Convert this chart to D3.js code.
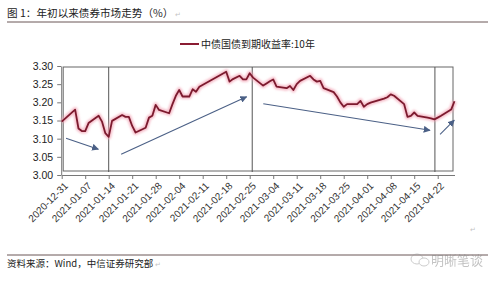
<!DOCTYPE html>
<html><head><meta charset="utf-8">
<script src="https://cdn.jsdelivr.net/npm/d3@7/dist/d3.min.js"></script>
<style>body{margin:0;background:#fff}svg{display:block}</style>
</head><body>
<svg id="c" width="500" height="282"></svg>
<script>
const titleText = "图 1：年初以来债券市场走势（%）";
const seriesName = "中债国债到期收益率:10年";
const sourceText = "资料来源：Wind，中信证券研究部";
const watermark = "明晰笔谈";

const dates = ["2020-12-31","2021-01-04","2021-01-05","2021-01-06","2021-01-07","2021-01-08","2021-01-11","2021-01-12","2021-01-13","2021-01-14","2021-01-15","2021-01-18","2021-01-19","2021-01-20","2021-01-21","2021-01-22","2021-01-25","2021-01-26","2021-01-27","2021-01-28","2021-01-29","2021-02-01","2021-02-02","2021-02-03","2021-02-04","2021-02-05","2021-02-07","2021-02-08","2021-02-09","2021-02-10","2021-02-18","2021-02-19","2021-02-20","2021-02-22","2021-02-23","2021-02-24","2021-02-25","2021-02-26","2021-03-01","2021-03-02","2021-03-03","2021-03-04","2021-03-05","2021-03-08","2021-03-09","2021-03-10","2021-03-11","2021-03-12","2021-03-15","2021-03-16","2021-03-17","2021-03-18","2021-03-19","2021-03-22","2021-03-23","2021-03-24","2021-03-25","2021-03-26","2021-03-29","2021-03-30","2021-03-31","2021-04-01","2021-04-02","2021-04-06","2021-04-07","2021-04-08","2021-04-09","2021-04-12","2021-04-13","2021-04-14","2021-04-15","2021-04-16","2021-04-19","2021-04-20","2021-04-21","2021-04-22","2021-04-23","2021-04-26","2021-04-27"];
const yields = [3.147,3.180,3.128,3.121,3.121,3.143,3.163,3.147,3.115,3.105,3.149,3.165,3.160,3.160,3.135,3.117,3.130,3.158,3.163,3.193,3.179,3.170,3.195,3.218,3.234,3.216,3.216,3.236,3.229,3.243,3.284,3.257,3.264,3.273,3.263,3.263,3.280,3.268,3.246,3.252,3.258,3.263,3.243,3.239,3.245,3.234,3.250,3.259,3.273,3.263,3.257,3.259,3.239,3.228,3.216,3.200,3.188,3.195,3.195,3.204,3.188,3.195,3.199,3.210,3.214,3.222,3.218,3.195,3.160,3.163,3.172,3.163,3.158,3.156,3.153,3.158,3.163,3.180,3.203];

const xTickLabels = ["2020-12-31","2021-01-07","2021-01-14","2021-01-21","2021-01-28","2021-02-04","2021-02-11","2021-02-18","2021-02-25","2021-03-04","2021-03-11","2021-03-18","2021-03-25","2021-04-01","2021-04-08","2021-04-15","2021-04-22"];
const yTicks = [3.00,3.05,3.10,3.15,3.20,3.25,3.30];
const xDomain = ["2020-12-31","2021-04-27"];

// phase dividers and trend arrows (annotations, in data space)
const dividerDates = ["2021-01-14T00:00","2021-02-25T18:00","2021-04-21T04:00"];
const arrowStartDates = ["2021-01-01T07:00","2021-01-17T17:00","2021-03-01T01:00","2021-04-22T17:00"];
const arrowStartValues = [3.101,3.057,3.196,3.112];
const arrowEndDates = ["2021-01-10T22:00","2021-02-24T02:00","2021-04-19T17:00","2021-04-26T22:00"];
const arrowEndValues = [3.071,3.2155,3.123,3.151];

const pDay = d3.timeParse("%Y-%m-%d");
const pTime = d3.timeParse("%Y-%m-%dT%H:%M");
const data = dates.map((d,i)=>({date:pDay(d), v:yields[i]}));

const svg = d3.select("#c");
const x = d3.scaleTime().domain(xDomain.map(pDay)).range([61.7,454.5]);
const y = d3.scaleLinear().domain([3.00,3.30]).range([175,66]);

const cjk = "'Noto Sans CJK SC','Noto Sans',sans-serif";
const latin = "'Liberation Sans',Arial,sans-serif";

function paraMark(textSel, yy){
  const bb = textSel.node().getBBox();
  svg.append("text").attr("x",bb.x+bb.width+2).attr("y",yy).attr("font-family",latin).attr("font-size",7).attr("fill","#c4c4c4").text("↵");
}

// title
const tt = svg.append("text").attr("x",7).attr("y",17).attr("font-family",cjk).attr("font-size",10.6).attr("fill","#222").text(titleText);
paraMark(tt,17);
svg.append("line").attr("x1",7).attr("x2",488).attr("y1",22).attr("y2",22).attr("stroke","#6a5656").attr("stroke-width",1);

// legend
svg.append("line").attr("x1",180).attr("x2",199).attr("y1",44).attr("y2",44).attr("stroke","#8a1c32").attr("stroke-width",2);
svg.append("text").attr("x",201).attr("y",47.5).attr("font-family",cjk).attr("font-size",10).attr("fill","#222").text(seriesName);

// frame with phase dividers
const fx0 = x.range()[0]+1.5, fx1 = x.range()[1]-1.5, fy0 = y(3.30)+1, fy1 = y(3.00)-4;
svg.append("rect").attr("x",fx0).attr("y",fy0).attr("width",fx1-fx0).attr("height",fy1-fy0)
  .attr("fill","none").attr("stroke","#666").attr("stroke-width",1);
svg.selectAll(".div").data(dividerDates).join("line")
  .attr("x1",d=>x(pTime(d))).attr("x2",d=>x(pTime(d))).attr("y1",fy0).attr("y2",fy1+1)
  .attr("stroke","#555").attr("stroke-width",1);

// axes
const yAxis = d3.axisLeft(y).tickValues(yTicks).tickFormat(d3.format(".2f")).tickSize(4).tickSizeOuter(0);
const gy = svg.append("g").attr("transform",`translate(${x.range()[0]-0.5},0)`).call(yAxis);
gy.select(".domain").attr("stroke","#777");
gy.selectAll(".tick line").attr("stroke","#777");
gy.selectAll("text").attr("font-family",latin).attr("font-size",10.5).attr("fill","#222").attr("x",-8);

const xAxis = d3.axisBottom(x).tickValues(xTickLabels.map(pDay)).tickFormat(d3.timeFormat("%Y-%m-%d")).tickSize(4).tickSizeOuter(0);
const gx = svg.append("g").attr("transform",`translate(0,${y(3.00)})`).call(xAxis);
gx.select(".domain").attr("stroke","#777");
gx.selectAll(".tick line").attr("stroke","#777");
gx.selectAll("text").attr("font-family",latin).attr("font-size",10).attr("fill","#333")
  .attr("text-anchor","end").attr("dy","0.35em").attr("y",0)
  .attr("transform","translate(4,9) rotate(-45)");

// line with glow
const line = d3.line().x(d=>x(d.date)).y(d=>y(d.v)).curve(d3.curveLinear);
const defs = svg.append("defs");
const f = defs.append("filter").attr("id","glow").attr("x","-10%").attr("y","-50%").attr("width","120%").attr("height","200%");
f.append("feGaussianBlur").attr("stdDeviation",1.2);
svg.append("path").datum(data).attr("d",line).attr("fill","none").attr("stroke","#f2a3b3").attr("stroke-width",5)
  .attr("stroke-opacity",0.7).attr("filter","url(#glow)").attr("stroke-linejoin","round");
svg.append("path").datum(data).attr("d",line).attr("fill","none").attr("stroke","#7c1a2e").attr("stroke-width",1.8)
  .attr("stroke-linejoin","round");

// arrows
const m = defs.append("marker").attr("id","ah").attr("viewBox","0 0 10 10").attr("refX",9).attr("refY",5)
  .attr("markerWidth",7).attr("markerHeight",7).attr("markerUnits","userSpaceOnUse").attr("orient","auto");
m.append("path").attr("d","M0,0L10,5L0,10Z").attr("fill","#4b6086");
svg.selectAll(".arr").data(arrowStartDates).join("line")
  .attr("x1",(d,i)=>x(pTime(d))).attr("y1",(d,i)=>y(arrowStartValues[i]))
  .attr("x2",(d,i)=>x(pTime(arrowEndDates[i]))).attr("y2",(d,i)=>y(arrowEndValues[i]))
  .attr("stroke","#4b6086").attr("stroke-width",1.1).attr("marker-end","url(#ah)");

// paragraph mark
svg.append("text").attr("x",470).attr("y",232).attr("font-family",latin).attr("font-size",7).attr("fill","#c4c4c4").text("↵");

// footer
svg.append("line").attr("x1",7).attr("x2",488).attr("y1",255).attr("y2",255).attr("stroke","#6a5656").attr("stroke-width",1);
const st = svg.append("text").attr("x",7).attr("y",267).attr("font-family",cjk).attr("font-size",9.5).attr("fill","#222").text(sourceText);
paraMark(st,267);

// watermark
const wm = svg.append("g").attr("opacity",0.5);
wm.append("ellipse").attr("cx",417).attr("cy",259).attr("rx",6).attr("ry",5).attr("fill","none").attr("stroke","#999").attr("stroke-width",1);
wm.append("ellipse").attr("cx",424).attr("cy",262).attr("rx",5).attr("ry",4).attr("fill","#fff").attr("stroke","#999").attr("stroke-width",1);
wm.append("text").attr("x",431).attr("y",265).attr("font-family",cjk).attr("font-size",13).attr("fill","#888").text(watermark);
</script>
</body></html>
